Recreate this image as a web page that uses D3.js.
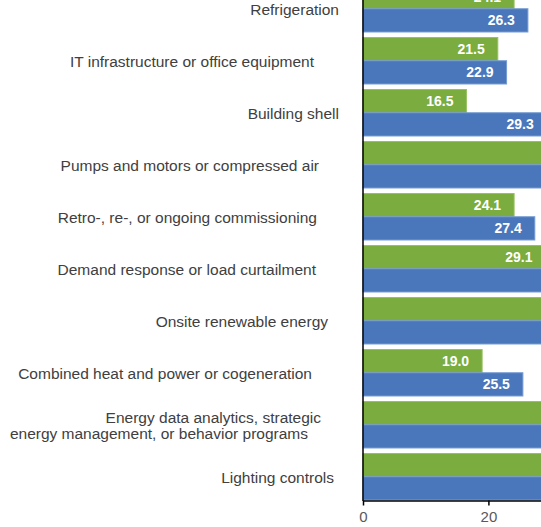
<!DOCTYPE html>
<html>
<head>
<meta charset="utf-8">
<script src="https://cdn.jsdelivr.net/npm/d3@7"></script>
<style>
    body { margin: 0; background: #fff; }
    svg { display: block; font-family: "Liberation Sans", Arial, sans-serif; }
    .cat-label { fill: #404040; font-size: 15.5px; }
    .value-label { fill: #fff; font-size: 14px; font-weight: bold; }
    .x-axis text { fill: #595959; font-size: 15px; }
    .x-axis path, .x-axis line, .y-axis path { stroke: #000; stroke-width: 1.5px; }
</style>
</head>
<body>
<svg id="chart" width="541" height="527"></svg>
<script>
// categories, top to bottom
let categories = [
    'Refrigeration',
    'IT infrastructure or office equipment',
    'Building shell',
    'Pumps and motors or compressed air',
    'Retro-, re-, or ongoing commissioning',
    'Demand response or load curtailment',
    'Onsite renewable energy',
    'Combined heat and power or cogeneration',
    'Energy data analytics, strategic\nenergy management, or behavior programs',
    'Lighting controls'
];

let greenValues = [24.1, 21.5, 16.5, 38.4, 24.1, 29.1, 39.5, 19.0, 37.0, 52.1];
let blueValues  = [26.3, 22.9, 29.3, 41.0, 27.4, 36.8, 42.2, 25.5, 40.3, 55.0];

let xTicks = [0, 20, 40, 60];

// right edge of each label line (layout only)
let labelEnds = [[339], [314], [339], [319], [317], [316], [328], [312], [321, 308], [334]];

let width = 541;
let svg = d3.select('#chart');

let x = d3.scaleLinear()
    .domain([0, 60])
    .range([363, 363 + 60 * 6.27]);

let y = d3.scaleBand()
    .domain(categories)
    .range([-14.5, 500])
    .paddingInner(0.106)
    .paddingOuter(0);

let half = y.bandwidth() / 2;

let rows = categories.map((c, i) => ({cat: c, green: greenValues[i], blue: blueValues[i], i: i}));

let group = svg.selectAll('g.row')
    .data(rows)
    .enter().append('g')
    .attr('class', 'row');

group.append('rect')
    .attr('x', x(0))
    .attr('y', d => y(d.cat))
    .attr('width', d => x(d.green) - x(0))
    .attr('height', half)
    .attr('fill', '#7aac3f')
    .attr('stroke', '#97c262')
    .attr('stroke-width', 1);

group.append('rect')
    .attr('x', x(0))
    .attr('y', d => y(d.cat) + half)
    .attr('width', d => x(d.blue) - x(0))
    .attr('height', half)
    .attr('fill', '#4a77bb')
    .attr('stroke', '#759bd3')
    .attr('stroke-width', 1);

// value labels sit inside the bar end; skip the ones that land past the frame
let valueLabels = [];
rows.forEach(d => {
    valueLabels.push({v: d.green, yc: y(d.cat) + half / 2});
    valueLabels.push({v: d.blue, yc: y(d.cat) + half * 1.5});
});

svg.selectAll('text.value-label')
    .data(valueLabels.filter(d => x(d.v) - 13 - 30 < width))
    .enter().append('text')
    .attr('class', 'value-label')
    .attr('x', d => x(d.v) - 13)
    .attr('y', d => d.yc)
    .attr('dy', '0.36em')
    .attr('text-anchor', 'end')
    .text(d => d.v.toFixed(1));

// category labels, may wrap on two lines
let label = group.append('text')
    .attr('class', 'cat-label')
    .attr('text-anchor', 'end');

label.each(function(d) {
    let lines = d.cat.split('\n');
    let mid = y(d.cat) + y.bandwidth() / 2 + 1;
    let top = mid - (lines.length - 1) * 8;
    lines.forEach((ln, k) => {
        d3.select(this).append('tspan')
            .attr('x', labelEnds[d.i][k])
            .attr('y', top + k * 16)
            .attr('dy', '0.36em')
            .text(ln);
    });
});

// axes
svg.append('g')
    .attr('class', 'y-axis')
    .attr('transform', `translate(${x(0)},0)`)
    .call(d3.axisLeft(y).tickSize(0).tickFormat(''))
    .select('.domain').attr('d', 'M0,-20V501');

// only the ticks that fall inside the frame
let xAxis = svg.append('g')
    .attr('class', 'x-axis')
    .attr('transform', 'translate(0,500.5)')
    .call(d3.axisBottom(x)
        .tickValues(xTicks.filter(t => x(t) < width))
        .tickSize(5).tickSizeOuter(0).tickPadding(6));

xAxis.selectAll('text').attr('font-family', null).attr('font-size', null);
</script>
</body>
</html>
